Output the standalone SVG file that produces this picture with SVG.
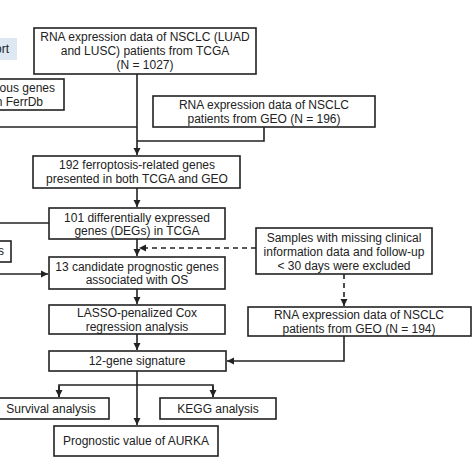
<svg xmlns="http://www.w3.org/2000/svg" width="474" height="474" viewBox="0 0 474 474">
<defs>
<style>
.b{fill:#fff;stroke:#222;stroke-width:1.6}
.t{font-family:"Liberation Sans",Arial,sans-serif;font-size:12px;fill:#222;text-anchor:middle}
.e{text-anchor:end}
.l{fill:none;stroke:#222;stroke-width:1.6}
.d{fill:none;stroke:#222;stroke-width:1.6;stroke-dasharray:5,4}
</style>
<marker id="a" markerWidth="8" markerHeight="8" refX="7" refY="4" orient="auto" markerUnits="userSpaceOnUse"><path d="M0,0.5 L7,4 L0,7.5 Z" fill="#222"/></marker>
</defs>
<rect width="474" height="474" fill="#fff"/>
<g id="connectors">
<path class="l" d="M137,74 V155" marker-end="url(#a)"/>
<path class="l" d="M0,127 H137"/>
<path class="l" d="M264,127 V141 H137"/>
<path class="l" d="M137,188 V207" marker-end="url(#a)"/>
<path class="l" d="M0,223 H49"/>
<path class="l" d="M137,239 V256" marker-end="url(#a)"/>
<path class="d" d="M256,248 H139" marker-end="url(#a)"/>
<path class="l" d="M0,274 H48" marker-end="url(#a)"/>
<path class="l" d="M137,289 V304" marker-end="url(#a)"/>
<path class="d" d="M344,274 V306" marker-end="url(#a)"/>
<path class="l" d="M137,334 V350" marker-end="url(#a)"/>
<path class="l" d="M344,336 V361 H227" marker-end="url(#a)"/>
<path class="l" d="M137,371 V425" marker-end="url(#a)"/>
<path class="l" d="M59,397 V385 H213 V397"/>
<path class="l" d="M59,386 V397" marker-end="url(#a)"/>
<path class="l" d="M213,386 V397" marker-end="url(#a)"/>
</g>
<g id="n-ort">
<rect x="-2" y="38" width="19" height="22" fill="#dde8f2"/>
<text class="t e" x="9" y="53">ort</text>
</g>
<g id="n-tcga">
<rect class="b" x="34" y="28" width="222" height="46"/>
<text class="t" x="145" y="41">RNA expression data of NSCLC (LUAD</text>
<text class="t" x="145" y="55">and LUSC) patients from TCGA</text>
<text class="t" x="145" y="69">(N = 1027)</text>
</g>
<g id="n-ferrdb">
<rect class="b" x="-2" y="79" width="66" height="31"/>
<text class="t e" x="55" y="92">ous genes</text>
<text class="t e" x="43" y="106">n FerrDb</text>
</g>
<g id="n-geo196">
<rect class="b" x="153" y="96" width="222" height="31"/>
<text class="t" x="264" y="109">RNA expression data of NSCLC</text>
<text class="t" x="264" y="123">patients from GEO (N = 196)</text>
</g>
<g id="n-192">
<rect class="b" x="33" y="156" width="207" height="32"/>
<text class="t" x="137" y="169">192 ferroptosis-related genes</text>
<text class="t" x="137" y="183">presented in both TCGA and GEO</text>
</g>
<g id="n-101">
<rect class="b" x="49" y="208" width="176" height="31"/>
<text class="t" x="137" y="222">101 differentially expressed</text>
<text class="t" x="137" y="235">genes (DEGs) in TCGA</text>
</g>
<g id="n-left-s">
<rect class="b" x="-2" y="241" width="13" height="21"/>
<text class="t e" x="4" y="255">s</text>
</g>
<g id="n-samples">
<rect class="b" x="256" y="228" width="176" height="46"/>
<text class="t" x="344" y="242">Samples with missing clinical</text>
<text class="t" x="344" y="256">information data and follow-up</text>
<text class="t" x="344" y="270">&lt; 30 days were excluded</text>
</g>
<g id="n-13">
<rect class="b" x="49" y="257" width="176" height="32"/>
<text class="t" x="137" y="271">13 candidate prognostic genes</text>
<text class="t" x="137" y="284">associated with OS</text>
</g>
<g id="n-lasso">
<rect class="b" x="49" y="305" width="176" height="29"/>
<text class="t" x="137" y="317">LASSO-penalized Cox</text>
<text class="t" x="137" y="331">regression analysis</text>
</g>
<g id="n-geo194">
<rect class="b" x="248" y="307" width="223" height="29"/>
<text class="t" x="359" y="319">RNA expression data of NSCLC</text>
<text class="t" x="359" y="333">patients from GEO (N = 194)</text>
</g>
<g id="n-12">
<rect class="b" x="49" y="351" width="177" height="20"/>
<text class="t" x="137" y="365">12-gene signature</text>
</g>
<g id="n-survival">
<rect class="b" x="-2" y="398" width="111" height="21"/>
<text class="t" x="51" y="413">Survival analysis</text>
</g>
<g id="n-kegg">
<rect class="b" x="160" y="398" width="116" height="21"/>
<text class="t" x="218" y="413">KEGG analysis</text>
</g>
<g id="n-aurka">
<rect class="b" x="54" y="426" width="164" height="30"/>
<text class="t" x="136" y="445">Prognostic value of AURKA</text>
</g>
</svg>
